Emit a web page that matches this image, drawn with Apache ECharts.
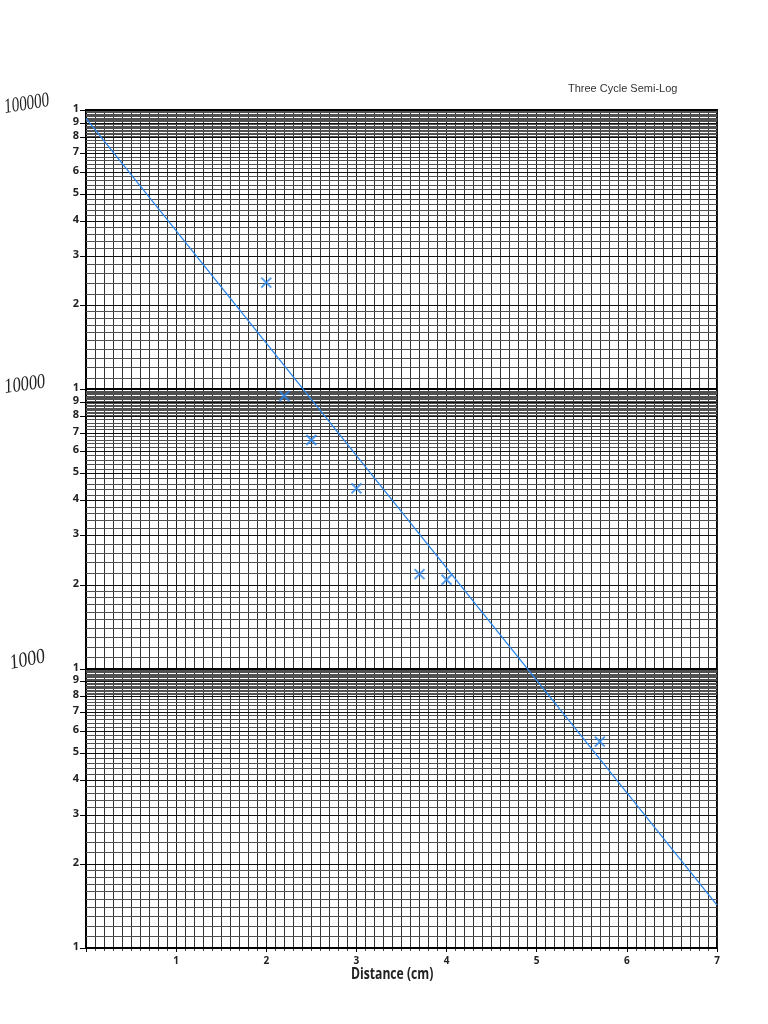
<!DOCTYPE html>
<html><head><meta charset="utf-8">
<script src="https://cdn.jsdelivr.net/npm/echarts@6/dist/echarts.min.js"></script>
<style>html,body{margin:0;padding:0;background:#fff}#c{width:768px;height:1024px}</style>
</head><body><div id="c"></div>
<script>
// ---- chart content ----
const titleText = 'Three Cycle Semi-Log';
const xAxisTitle = 'Distance (cm)';
const xTickLabels = ['1', '2', '3', '4', '5', '6', '7'];
const decades = [100, 1000, 10000];
const decadeNotes = ['100000', '10000', '1000'];
const mantissas = [1, 2, 3, 4, 5, 6, 7, 8, 9];
const pointX = [2.0, 2.2, 2.5, 3.0, 3.7, 4.0, 5.7];
const pointY = [24100, 9460, 6590, 4420, 2180, 2080, 548];
const fitX = [0, 7];
const fitY = [93400, 142.5];

// ---- grid line values (semi-log paper rulings) ----
function minorSteps() {
  const s = [];
  for (let m = 1.1; m < 1.95; m += 0.1) s.push(+m.toFixed(2));
  for (let m = 2.2; m < 7.95; m += 0.2) { const r = +m.toFixed(2); if (Math.abs(r - Math.round(r)) > 1e-6) s.push(r); }
  for (let m = 8.1; m < 9.95; m += 0.1) { const r = +m.toFixed(2); if (Math.abs(r - Math.round(r)) > 1e-6) s.push(r); }
  return s;
}
const gridRows = [];
decades.forEach(d => {
  minorSteps().forEach(m => gridRows.push([0, m * d, 0]));
  mantissas.forEach(m => gridRows.push([0, m * d, m === 1 ? 2 : 1]));
});
gridRows.push([0, decades[decades.length - 1] * 10, 2]);

const labelRows = [];
decades.forEach(d => mantissas.forEach(m => labelRows.push([0, m * d])));
labelRows.push([0, decades[decades.length - 1] * 10]);

const chart = echarts.init(document.getElementById('c'), null, { renderer: 'canvas' });
const BLUE = '#2a84ea';
const LABEL_FONT = '"Open Sans", "DejaVu Sans", sans-serif';

chart.setOption({
  animation: false,
  backgroundColor: '#fff',
  grid: { left: 86, right: 51, top: 110, bottom: 76, show: true, borderColor: '#000', borderWidth: 2, backgroundColor: 'transparent' },
  xAxis: {
    type: 'value', min: 0, max: 7, interval: 1,
    axisLine: { show: true, onZero: false, lineStyle: { color: '#000', width: 2 } },
    axisTick: { show: true, length: 4, lineStyle: { color: '#000', width: 1 } },
    minorTick: { show: true, splitNumber: 10, length: 3, lineStyle: { color: '#444', width: 1 } },
    splitLine: { show: true, lineStyle: { color: '#1c1c1c', width: 1 } },
    minorSplitLine: { show: true, lineStyle: { color: '#333', width: 1 } },
    axisLabel: { formatter: v => (v >= 1 ? xTickLabels[v - 1] : ''), fontWeight: 'bold', fontSize: 10, color: '#222', margin: 8, fontFamily: LABEL_FONT }
  },
  yAxis: {
    type: 'log', logBase: 10, min: 100, max: 100000,
    axisLine: { show: true, lineStyle: { color: '#000', width: 2 } },
    axisTick: { show: false }, axisLabel: { show: false },
    splitLine: { show: false }
  },
  graphic: [
    { type: 'text', left: 568, top: 83, style: { text: titleText, font: '11px "Liberation Sans", Arial, sans-serif', fill: '#333' } },
    { type: 'text', x: 351, y: 966, scaleX: 0.76, style: { text: xAxisTitle, font: 'bold 16px "Open Sans", "DejaVu Sans", sans-serif', fill: '#222' } },
    { type: 'text', x: 6, y: 118, rotation: 0.16, scaleX: 0.72, style: { text: decadeNotes[0], font: 'italic 21px "Liberation Serif", serif', fill: '#222', textVerticalAlign: 'bottom' } },
    { type: 'text', x: 6, y: 398, rotation: 0.14, scaleX: 0.78, style: { text: decadeNotes[1], font: 'italic 21px "Liberation Serif", serif', fill: '#222', textVerticalAlign: 'bottom' } },
    { type: 'text', x: 12, y: 674, rotation: 0.2, scaleX: 0.85, style: { text: decadeNotes[2], font: 'italic 21px "Liberation Serif", serif', fill: '#222', textVerticalAlign: 'bottom' } }
  ],
  series: [
    {
      type: 'custom', name: 'rulings', silent: true, z: 1, clip: false,
      encode: { x: 0, y: 1 },
      data: gridRows,
      renderItem: function (params, api) {
        const v = api.value(1), kind = api.value(2);
        const a = api.coord([0, v]), b = api.coord([7, v]);
        const y = kind === 2 ? Math.round(a[1]) : Math.round(a[1]) + 0.5;
        const style = kind === 2 ? { stroke: '#000', lineWidth: 2 }
          : kind === 1 ? { stroke: '#111', lineWidth: 1 }
          : { stroke: '#505050', lineWidth: 1 };
        return { type: 'line', shape: { x1: a[0], y1: y, x2: b[0], y2: y }, style: style };
      }
    },
    {
      type: 'custom', name: 'ylabels', silent: true, z: 2, clip: false,
      encode: { x: 0, y: 1 },
      data: labelRows,
      renderItem: function (params, api) {
        const v = api.value(1);
        const p = api.coord([0, v]);
        const m = Math.round(v / Math.pow(10, Math.floor(Math.log10(v) + 1e-9)));
        const y = Math.round(p[1]) + 0.5;
        return {
          type: 'group', children: [
            { type: 'line', shape: { x1: p[0] - 6, y1: y, x2: p[0], y2: y }, style: { stroke: '#000', lineWidth: 1 } },
            { type: 'text', x: p[0] - 7, y: y - 2, style: { text: String(m), font: 'bold 11px ' + LABEL_FONT, fill: '#222', textAlign: 'right', textVerticalAlign: 'middle' } }
          ]
        };
      }
    },
    {
      type: 'line', name: 'fit', z: 3, symbol: 'none', silent: true,
      data: fitX.map((x, i) => [x, fitY[i]]),
      lineStyle: { color: BLUE, width: 1.3 }
    },
    {
      type: 'scatter', name: 'measured', z: 4, silent: true,
      symbol: 'path://M0,0L10,10M10,0L0,10', symbolSize: 10,
      data: pointX.map((x, i) => [x, pointY[i]]),
      itemStyle: { color: 'rgba(0,0,0,0)', borderColor: BLUE, borderWidth: 2 }
    }
  ]
});
</script>
</body></html>
